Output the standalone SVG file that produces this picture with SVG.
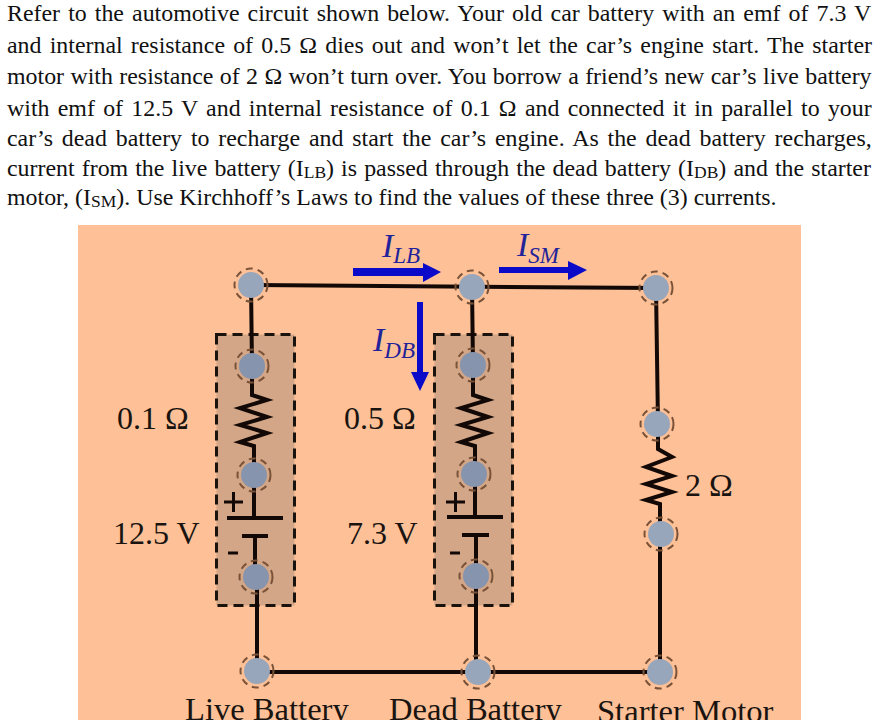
<svg xmlns="http://www.w3.org/2000/svg" width="877" height="720" viewBox="0 0 877 720">
<style>
.p{font:23.9px "Liberation Serif","Times New Roman",serif;fill:#111}
.l{font:32px "Liberation Serif","Times New Roman",serif;fill:#1a1410}
.c{font:32.6px "Liberation Serif","Times New Roman",serif;fill:#1a1410}
.i{font:italic 34px "Liberation Serif","Times New Roman",serif;fill:#22229a}
.s{font:italic 23px "Liberation Serif","Times New Roman",serif;fill:#22229a}
.w{fill:none;stroke:#120806;stroke-width:4}
.t{fill:none;stroke:#120806;stroke-width:3}
.b{fill:#d2a686;stroke:#1a120c;stroke-width:3;stroke-dasharray:10 6}
.n{fill:#98a6bb}
.d{fill:#8794ad}
.r{fill:none;stroke:#7a5238;stroke-width:2;stroke-dasharray:7 5}
.a{fill:#0a0ac8}
</style>
<rect width="877" height="720" fill="#fff"/>
<g id="question" class="p">
<text x="7" y="21" word-spacing="2.1">Refer to the automotive circuit shown below. Your old car battery with an emf of 7.3 V</text>
<text x="7" y="53" word-spacing="2.2">and internal resistance of 0.5 Ω dies out and won’t let the car’s engine start. The starter</text>
<text x="7" y="84" word-spacing="0.4">motor with resistance of 2 Ω won’t turn over. You borrow a friend’s new car’s live battery</text>
<text x="7" y="116" word-spacing="2.3">with emf of 12.5 V and internal resistance of 0.1 Ω and connected it in parallel to your</text>
<text x="7" y="146" word-spacing="2.85">car’s dead battery to recharge and start the car’s engine. As the dead battery recharges,</text>
<text x="7" y="176" word-spacing="1.1">current from the live battery (I<tspan font-size="17.500" dy="1.500">LB</tspan><tspan dy="-1.500">)</tspan> is passed through the dead battery (I<tspan font-size="17.500" dy="1.500">DB</tspan><tspan dy="-1.500">)</tspan> and the starter</text>
<text x="7" y="205">motor, (I<tspan font-size="17.500" dy="1.500">SM</tspan><tspan dy="-1.500">)</tspan>. Use Kirchhoff’s Laws to find the values of these three (3) currents.</text>
</g>
<rect id="panel" x="78" y="225" width="723" height="495" fill="#fdc097"/>
<rect class="b" x="216.500" y="334.500" width="78" height="271"/>
<rect class="b" x="434.500" y="334.500" width="78" height="271"/>
<g id="connectors">
<path class="w" d="M251 285 L656 288 L658 424 V449 L672 457 L646 467 L672 476 L646 484 L672 492 L646 500 L660 504 V534 L660 672 H257 V577"/>
<path class="w" d="M251 285 L252 366 V395 L267 400 L240 408 L267 417 L240 425 L267 433 L240 442 L254 446 V518"/>
<path class="w" d="M472 287 L473 365 V395 L488 400 L461 408 L488 417 L461 425 L488 433 L461 442 L475 446 V517"/>
<path class="w" d="M227 518 H283 M242 536 H268 M255 536 V577 M447 517 H503 M462 535 H489 M476 535 V672"/>
<path class="t" d="M224 502 H243 M233.500 492 V512 M228 553 H238 M446 502 H465 M455.500 492 V512 M450 553 H460"/>
</g>
<g id="arrows">
<path class="a" d="M353 268 H423 V263 L441 272 L423 282 V276 H353Z"/>
<path class="a" d="M499 267 H568 V261 L587 270 L568 280 V273 H499Z"/>
<path class="a" d="M417 302 H423 V372 H429 L420 391 L411 372 H417Z"/>
</g>
<g id="n1"><circle class="n" cx="251" cy="285" r="13"/><circle class="r" cx="251" cy="285" r="16.500"/></g>
<g id="n2"><circle class="n" cx="472" cy="287" r="13"/><circle class="r" cx="472" cy="287" r="16.500"/></g>
<g id="n3"><circle class="n" cx="656" cy="288" r="13"/><circle class="r" cx="656" cy="288" r="16.500"/></g>
<g id="n4"><circle class="d" cx="252" cy="366" r="13"/><circle class="r" cx="252" cy="366" r="16.500"/></g>
<g id="n5"><circle class="d" cx="473" cy="365" r="13"/><circle class="r" cx="473" cy="365" r="16.500"/></g>
<g id="n6"><circle class="d" cx="254" cy="475" r="13"/><circle class="r" cx="254" cy="475" r="16.500"/></g>
<g id="n7"><circle class="d" cx="474" cy="474" r="13"/><circle class="r" cx="474" cy="474" r="16.500"/></g>
<g id="n8"><circle class="d" cx="256" cy="577" r="13"/><circle class="r" cx="256" cy="577" r="16.500"/></g>
<g id="n9"><circle class="d" cx="476" cy="576" r="13"/><circle class="r" cx="476" cy="576" r="16.500"/></g>
<g id="n10"><circle class="n" cx="657" cy="424" r="13"/><circle class="r" cx="657" cy="424" r="16.500"/></g>
<g id="n11"><circle class="n" cx="661" cy="534" r="13"/><circle class="r" cx="661" cy="534" r="16.500"/></g>
<g id="n12"><circle class="n" cx="257" cy="671" r="13"/><circle class="r" cx="257" cy="671" r="16.500"/></g>
<g id="n13"><circle class="n" cx="478" cy="672" r="13"/><circle class="r" cx="478" cy="672" r="16.500"/></g>
<g id="n14"><circle class="n" cx="660" cy="672" r="13"/><circle class="r" cx="660" cy="672" r="16.500"/></g>
<g id="labels">
<text class="l" x="117" y="429">0.1 Ω</text>
<text class="l" x="344" y="429">0.5 Ω</text>
<text class="l" x="113" y="544">12.5 V</text>
<text class="l" x="347" y="544">7.3 V</text>
<text class="l" x="685" y="496">2 Ω</text>
<text class="c" x="185" y="720">Live Battery</text>
<text class="c" x="389" y="720">Dead Battery</text>
<text class="c" x="597" y="722">Starter Motor</text>
<text class="i" x="382" y="257">I<tspan class="s" dy="6">LB</tspan></text>
<text class="i" x="517" y="256">I<tspan class="s" dy="7">SM</tspan></text>
<text class="i" x="373" y="351">I<tspan class="s" dy="7">DB</tspan></text>
</g>
</svg>
